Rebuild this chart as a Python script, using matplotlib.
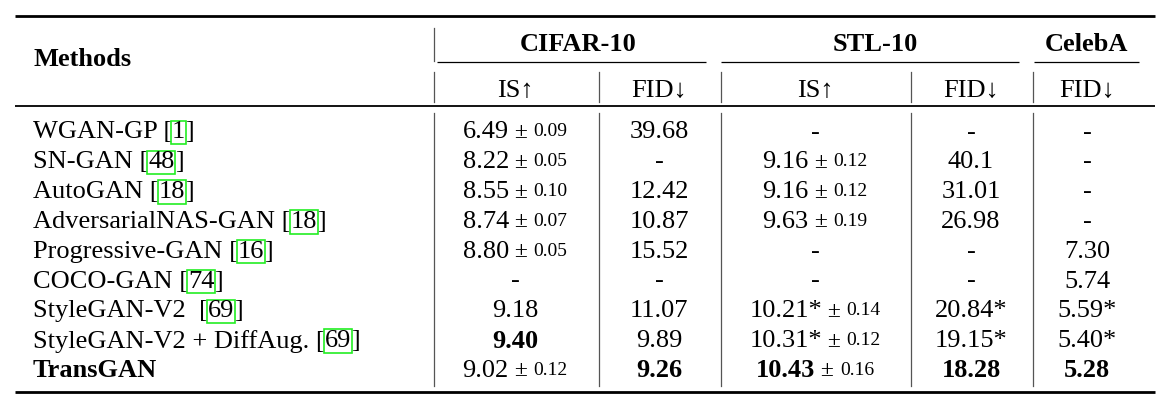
import matplotlib
matplotlib.use('Agg')
import matplotlib.pyplot as plt

methods = ['WGAN-GP', 'SN-GAN', 'AutoGAN', 'AdversarialNAS-GAN', 'Progressive-GAN',
           'COCO-GAN', 'StyleGAN-V2 ', 'StyleGAN-V2 + DiffAug.', 'TransGAN']
refs = ['1', '48', '18', '18', '16', '74', '69', '69', None]
cifar_is = ['6.49', '8.22', '8.55', '8.74', '8.80', '-', '9.18', '9.40', '9.02']
cifar_is_std = ['0.09', '0.05', '0.10', '0.07', '0.05', None, None, None, '0.12']
cifar_fid = ['39.68', '-', '12.42', '10.87', '15.52', '-', '11.07', '9.89', '9.26']
stl_is = ['-', '9.16', '9.16', '9.63', '-', '-', '10.21*', '10.31*', '10.43']
stl_is_std = [None, '0.12', '0.12', '0.19', None, None, '0.14', '0.12', '0.16']
stl_fid = ['-', '40.1', '31.01', '26.98', '-', '-', '20.84*', '19.15*', '18.28']
celeba_fid = ['-', '-', '-', '-', '7.30', '5.74', '5.59*', '5.40*', '5.28']

bold_cifar_is = [False] * 7 + [True, False]
bold_last = [False] * 8 + [True]

W, H = 1172, 401
FS = 19
SMALL = 14
FAM = ['Liberation Serif', 'DejaVu Serif']

fig = plt.figure(figsize=(W / 100, H / 100), dpi=100)
ax = fig.add_axes([0, 0, 1, 1])
ax.set_xlim(0, W)
ax.set_ylim(H, 0)
ax.axis('off')
renderer = fig.canvas.get_renderer()


def put(x, y, parts, ha='left'):
    # parts: (text, size, bold, boxed)
    items = []
    total = 0
    for txt, size, bold, boxed in parts:
        t = ax.text(0, y, txt, fontsize=size, family=FAM, va='center_baseline',
                    fontweight='bold' if bold else 'normal')
        w = t.get_window_extent(renderer).width
        items.append((t, w, boxed))
        total += w
    if ha == 'center':
        x = x - total / 2
    for t, w, boxed in items:
        t.set_x(x)
        if boxed:
            t.set_bbox(dict(facecolor='none', edgecolor='#22ee22', linewidth=1.2, pad=0.5))
        x += w


def hline(y, x0, x1, lw):
    ax.plot([x0, x1], [y, y], color='black', linewidth=lw, solid_capstyle='butt')


def vline(x, y0, y1):
    ax.plot([x, x], [y0, y1], color='#555555', linewidth=0.9)


L, R = 15, 1155
hline(16, L, R, 2.0)
hline(106, L, R, 1.3)
hline(392, L, R, 2.0)
hline(62, 437, 706, 0.9)
hline(62, 721, 1019, 0.9)
hline(62, 1034, 1139, 0.9)

put(33, 57, [('Methods', FS, True, False)])
put(578, 42, [('CIFAR-10', FS, True, False)], 'center')
put(875, 42, [('STL-10', FS, True, False)], 'center')
put(1086, 42, [('CelebA', FS, True, False)], 'center')
vline(434, 28, 61)

centers = [515, 659, 815, 971, 1087]
subs = ['IS↑', 'FID↓', 'IS↑', 'FID↓', 'FID↓']
for cx, s in zip(centers, subs):
    put(cx, 88, [(s, FS, False, False)], 'center')
for vx in [434, 599, 721, 911, 1033]:
    vline(vx, 72, 102)
    vline(vx, 113, 386)

y0, dy = 130, 29.8
for i in range(len(methods)):
    y = y0 + i * dy
    if refs[i] is None:
        put(33, y, [(methods[i], FS, True, False)])
    else:
        put(33, y, [(methods[i] + ' [', FS, False, False), (refs[i], FS, False, True),
                    (']', FS, False, False)])
    p = [(cifar_is[i], FS, bold_cifar_is[i], False)]
    if cifar_is_std[i]:
        p += [(' ± ', FS - 2, False, False), (cifar_is_std[i], SMALL, False, False)]
    put(centers[0], y, p, 'center')
    put(centers[1], y, [(cifar_fid[i], FS, bold_last[i], False)], 'center')
    p = [(stl_is[i], FS, bold_last[i], False)]
    if stl_is_std[i]:
        p += [(' ± ', FS - 2, False, False), (stl_is_std[i], SMALL, False, False)]
    put(centers[2], y, p, 'center')
    put(centers[3], y, [(stl_fid[i], FS, bold_last[i], False)], 'center')
    put(centers[4], y, [(celeba_fid[i], FS, bold_last[i], False)], 'center')

fig.savefig('out.png', dpi=100)
